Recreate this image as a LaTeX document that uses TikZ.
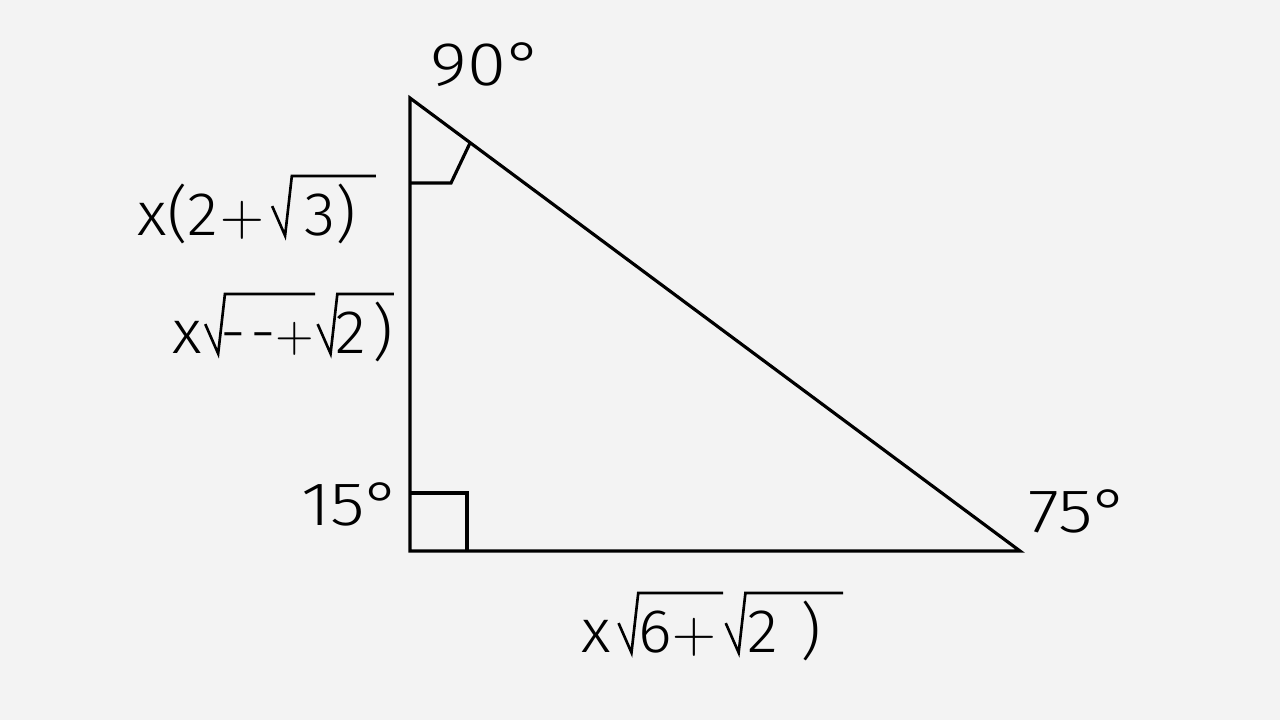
\documentclass[tikz,border=0pt]{standalone}
\usepackage{fontspec}
\setmainfont{Fira Sans}[UprightFont=* Light, FakeStretch=1.15]
\newfontfamily\sidefont{Fira Sans}[UprightFont=* Light, FakeStretch=1.04]
\definecolor{bg}{HTML}{F3F3F3}
% hand-drawn radical: #1 gap before the radicand, #2 radicand, #3 overhang of the bar
\newcommand{\rt}[3]{\tikz[baseline=0pt]{%
  \node[inner sep=0pt, anchor=base west] (rad) at ({0.32em+#1},0) {#2};
  \draw[line width=0.75pt, line join=miter] (0,0.47em) -- (0.21em,-0.01em) -- (0.32em,0.96em) -- ([xshift=#3]rad.east |- 0.32em,0.96em);}}
\newcommand{\pl}{$\mathord{+}$}
\tikzset{lbl/.style={anchor=base west, inner sep=0pt}}
\begin{document}
\begin{tikzpicture}[x=0.01cm, y=-0.01cm, font=\fontsize{17.5}{20}\selectfont]
  \fill[bg] (0,0) rectangle (1280,720);
  \coordinate (A) at (410,98);
  \coordinate (B) at (410,551);
  \coordinate (C) at (1020,551);
  \draw[line width=0.9pt] (A) -- (B) -- (C) -- cycle;
  \draw[line width=0.9pt] (410,493) -- (467,493) -- (467,551);
  \draw[line width=0.9pt] (410,183) -- (451,183) -- (470,143);
  % angles
  \node[lbl] (top) at (430,85) {90°};
  \node[lbl] (left) at (301,525) {15°};
  \node[lbl] (right) at (1028,532) {75°};
  % sides
  \node[lbl, font=\fontsize{17.5}{20}\sidefont] (sa) at (137,235)
    {x(2\hspace{0.04em}\pl\hspace{0.1em}\rt{0.2em}{3)}{0.3em}};
  \node[lbl, font=\fontsize{17.5}{20}\sidefont] (sb) at (172,353)
    {x\hspace{0.03em}\rt{-0.08em}{-\hspace{0.06em}-\raisebox{0.03em}{\fontsize{15}{15}\selectfont\pl}}{0em}\rt{-0.04em}{2\hspace{0.1em})}{0em}};
  \node[lbl, font=\fontsize{17.5}{20}\sidefont] (sc) at (581,652)
    {x\hspace{0.1em}\rt{0em}{6\pl}{0.1em}\rt{0.03em}{2\hspace{0.35em})}{0.35em}};
\end{tikzpicture}
\end{document}
